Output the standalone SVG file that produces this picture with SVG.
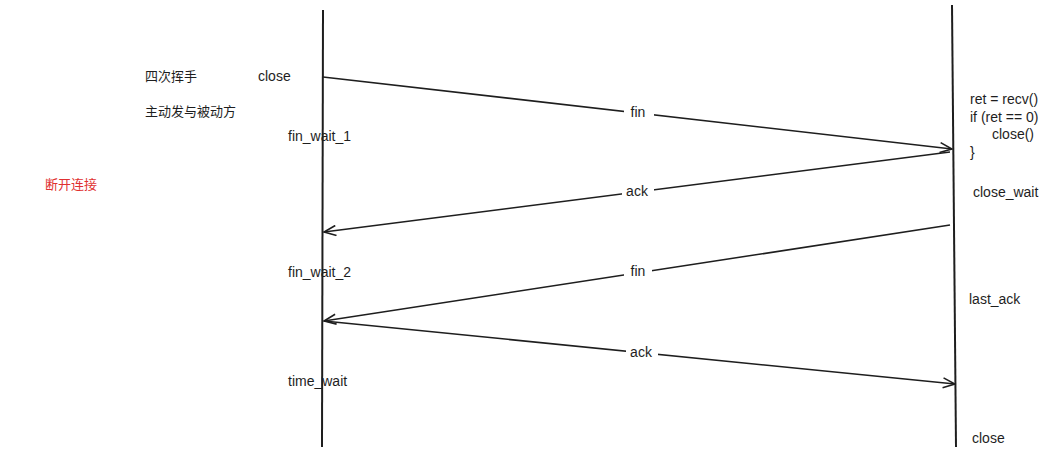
<svg xmlns="http://www.w3.org/2000/svg" width="1053" height="449" viewBox="0 0 1053 449">
<style>
text{font-family:"Liberation Sans","Noto Sans CJK SC",sans-serif;font-size:14px;fill:#1e1e1e}
.cn{font-size:13px}
.lbl{text-anchor:middle}
.line{stroke:#1e1e1e;stroke-width:2;fill:none}
.msg{stroke:#1e1e1e;stroke-width:1.6;fill:none}
</style>
<defs>
<marker id="a" markerWidth="14" markerHeight="12" refX="13" refY="6" orient="auto" markerUnits="userSpaceOnUse">
<path d="M1,1 L13,6 L1,11" fill="none" stroke="#1e1e1e" stroke-width="1.6"/>
</marker>
</defs>
<rect width="1053" height="449" fill="#fff"/>
<g id="notes">
<text class="cn" x="145" y="81">四次挥手</text>
<text class="cn" x="145" y="116">主动发与被动方</text>
<text class="cn" x="45" y="189" style="fill:#e03131">断开连接</text>
</g>
<g id="client">
<line class="line" x1="323" y1="10" x2="322" y2="447"/>
<text x="258" y="81">close</text>
<text x="288" y="141">fin_wait_1</text>
<text x="288" y="277">fin_wait_2</text>
<text x="288" y="386">time_wait</text>
</g>
<g id="server">
<line class="line" x1="952" y1="5" x2="956" y2="447"/>
<text x="970" y="104">ret = recv()</text>
<text x="970" y="122">if (ret == 0)</text>
<text x="992" y="139">close()</text>
<text x="970" y="157">}</text>
<text x="973" y="197">close_wait</text>
<text x="969" y="304">last_ack</text>
<text x="972" y="443">close</text>
</g>
<g id="connectors">
<path class="msg" d="M323,77 L952,149" marker-end="url(#a)"/>
<path class="msg" d="M950,152 L324,232" marker-end="url(#a)"/>
<path class="msg" d="M950,225 L324,321" marker-end="url(#a)"/>
<path class="msg" d="M324,321 L955,384" marker-end="url(#a)"/>
<rect x="624" y="104" width="30" height="16" fill="#fff"/>
<text class="lbl" x="638" y="117">fin</text>
<rect x="622" y="183" width="32" height="16" fill="#fff"/>
<text class="lbl" x="637" y="196">ack</text>
<rect x="624" y="263" width="28" height="16" fill="#fff"/>
<text class="lbl" x="638" y="276">fin</text>
<rect x="626" y="345" width="32" height="16" fill="#fff"/>
<text class="lbl" x="641" y="357">ack</text>
</g>
</svg>
